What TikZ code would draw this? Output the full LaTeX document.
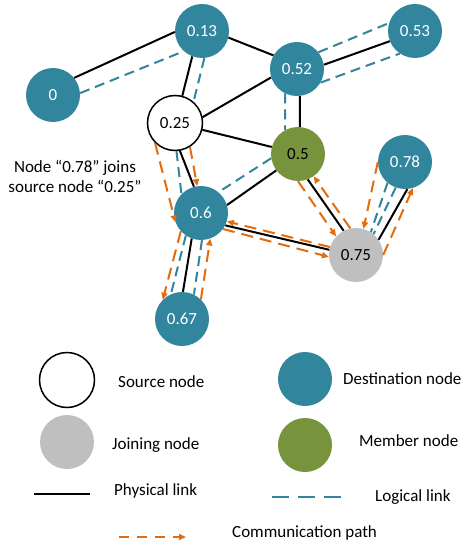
\documentclass[tikz,border=0pt]{standalone}
\usepackage{fontspec}
\setmainfont{Carlito}
\usetikzlibrary{arrows.meta,backgrounds}
\definecolor{destc}{HTML}{31859C}
\definecolor{memc}{HTML}{77933C}
\definecolor{joinc}{HTML}{BFBFBF}
\definecolor{commc}{HTML}{E46C0A}
\begin{document}
\begin{tikzpicture}[x=1bp,y=-1bp,
  every node/.style={font=\fontsize{17bp}{20bp}\selectfont},
  dest/.style={circle, fill=destc, text=white, minimum size=54bp, inner sep=0pt},
  src/.style={circle, draw=black, line width=1.5bp, fill=white, minimum size=55bp, inner sep=0pt},
  memb/.style={circle, fill=memc, text=black, minimum size=54bp, inner sep=0pt},
  joinn/.style={circle, fill=joinc, text=black, minimum size=54bp, inner sep=0pt},
  lbl/.style={anchor=west, inner sep=0pt},
  phys/.style={line width=2bp, black},
  logic/.style={line width=2bp, destc, dash pattern=on 10bp off 6bp},
  comm/.style={line width=2bp, commc, dash pattern=on 12bp off 7bp, -{Triangle[length=7bp,width=6bp]}}
]
\useasboundingbox (0,0) rectangle (469,550);
\fill[white] (0,0) rectangle (469,550);
% graph nodes
\node[dest] (n0) at (53,95) {0};
\node[dest] (n13) at (202,31) {0.13};
\node[dest] (n53) at (415,31) {0.53};
\node[dest] (n52) at (297,69) {0.52};
\node[src] (n25) at (175,123) {0.25};
\node[memb] (n50) at (298,154) {0.5};
\node[dest] (n78) at (405,162) {0.78};
\node[dest] (n60) at (201,213) {0.6};
\node[joinn] (n75) at (356,255) {0.75};
\node[dest] (n67) at (182,319) {0.67};
\node[align=center, inner sep=0pt] (note) at (75,176) {Node “0.78\symbol{34} joins\\source node “0.25”};
% links
\draw[phys] (n0.39) -- (n13.182);
\draw[logic] (n0.4) -- (n13.228);
\draw[phys] (n13.346) -- (n52.150);
\draw[phys] (n52.9) -- (n53.202);
\draw[logic] (n52.38) -- (n53.163);
\draw[logic] (n52.330) -- (n53.236);
\draw[phys] (n13.249) -- (n25.75);
\draw[logic] (n13.275) -- (n25.49);
\draw[phys] (n25.12) -- (n52.198);
\draw[phys] (n25.346) -- (n50.165);
\draw[phys] (n52.276) -- (n50.86);
\draw[logic] (n52.244) -- (n50.118);
\draw[phys] (n25.280) -- (n60.105);
\draw[logic] (n25.273) -- (n60.136);
\draw[comm] (n25.225) -- (n60.200);
\draw[comm] (n25.302) -- (n60.98);
\draw[phys] (n50.217) -- (n60.17);
\draw[logic] (n50.189) -- (n60.50);
\draw[phys] (n50.291) -- (n75.117);
\draw[comm] (n50.270) -- (n75.137);
\draw[comm] (n75.102) -- (n50.305);
\draw[phys] (n60.333) -- (n75.169);
\draw[comm] (n75.163) -- (n60.342);
\draw[comm] (n60.324) -- (n75.184);
\draw[phys] (n60.250) -- (n67.88);
\draw[logic] (n60.236) -- (n67.114);
\draw[logic] (n60.272) -- (n67.64);
\draw[comm] (n60.222) -- (n67.135);
\draw[comm] (n67.46) -- (n60.290);
\draw[phys] (n78.275) -- (n75.34);
\draw[logic] (n78.230) -- (n75.57);
\draw[logic] (n78.250) -- (n75.50);
\draw[comm] (n78.180) -- (n75.74);
\draw[comm] (n75.0) -- (n78.287);
% legend
\node[src] (lsrc) at (67,380) {};
\node[lbl] (tsrc) at (118,382) {Source node};
\node[dest] (ldest) at (305,379) {};
\node[lbl] (tdest) at (343,379) {Destination node};
\node[joinn] (ljoin) at (67,442) {};
\node[lbl] (tjoin) at (112,445) {Joining node};
\node[memb] (lmem) at (305,445) {};
\node[lbl] (tmem) at (359,441) {Member node};
\coordinate (pa) at (34,494);
\coordinate (pb) at (90,494);
\draw[phys] (pa) -- (pb);
\node[lbl] (tphys) at (114,491) {Physical link};
\coordinate (la) at (272,497);
\coordinate (lb) at (342,497);
\draw[logic, dash pattern=on 17bp off 9bp] (la) -- (lb);
\node[lbl] (tlog) at (375,497) {Logical link};
\coordinate (ca) at (119,537);
\coordinate (cb) at (186,537);
\draw[comm, dash pattern=on 10bp off 8bp] (ca) -- (cb);
\node[lbl] (tcomm) at (232,533) {Communication path};
\end{tikzpicture}
\end{document}
